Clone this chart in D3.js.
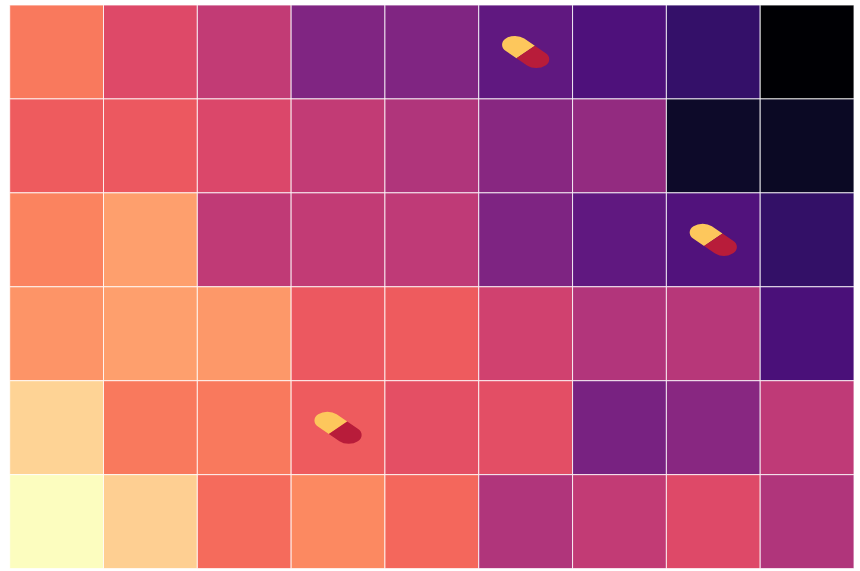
<!doctype html>
<html>
  <head>
    <meta charset="utf-8">
    <title>Heatmap with pills</title>
    <style>
      html, body { margin: 0; padding: 0; background: #fff; }
      svg { display: block; }
    </style>
    <script src="https://cdnjs.cloudflare.com/ajax/libs/d3/7.8.5/d3.min.js"></script>
  </head>
  <body>
    <div id="chart"></div>
    <script>
      const columns = [0, 1, 2, 3, 4, 5, 6, 7, 8];
      const rows = [0, 1, 2, 3, 4, 5];

      // magma scale position of each cell
      const row0 = [0.72, 0.60, 0.53, 0.37, 0.37, 0.29, 0.245, 0.185, 0.00];
      const row1 = [0.655, 0.645, 0.59, 0.53, 0.485, 0.39, 0.415, 0.075, 0.07];
      const row2 = [0.74, 0.80, 0.525, 0.53, 0.52, 0.365, 0.29, 0.25, 0.18];
      const row3 = [0.775, 0.80, 0.785, 0.645, 0.655, 0.565, 0.49, 0.50, 0.235];
      const row4 = [0.91, 0.72, 0.72, 0.655, 0.62, 0.615, 0.35, 0.39, 0.52];
      const row5 = [1.00, 0.90, 0.69, 0.75, 0.68, 0.485, 0.53, 0.60, 0.485];

      // cells that carry a pill
      const pillColumns = [5, 7, 3];
      const pillRows = [0, 2, 4];

      const values = [row0, row1, row2, row3, row4, row5];
      const cells = values.flatMap((r, i) => r.map((v, j) => ({row: i, col: j, value: v})));
      const pills = pillColumns.map((c, i) => ({col: c, row: pillRows[i]}));

      const x = d3.scaleBand().domain(columns).range([9.7, 854]);
      const y = d3.scaleBand().domain(rows).range([5, 568.6]);
      const color = d3.scaleSequential(d3.interpolateMagma).domain([0, 1]);

      const svg = d3.select('#chart')
        .append('svg')
        .attr('width', 860)
        .attr('height', 571);

      svg.selectAll('rect.cell')
        .data(cells)
        .join('rect')
        .attr('class', 'cell')
        .attr('x', d => x(d.col))
        .attr('y', d => y(d.row))
        .attr('width', x.bandwidth())
        .attr('height', y.bandwidth())
        .style('fill', d => color(d.value))
        .style('stroke', '#fff')
        .style('stroke-opacity', 0.8)
        .style('stroke-width', 1);

      // capsule at 45 degrees, flattened so it looks like it lies on the cell
      const half = 15, r = 13;
      const pill = svg.selectAll('g.pill')
        .data(pills)
        .join('g')
        .attr('class', 'pill')
        .attr('transform', d => `translate(${x(d.col) + x.bandwidth() / 2},${y(d.row) + y.bandwidth() / 2}) scale(1,0.68) rotate(45)`);

      pill.append('path')
        .attr('d', `M0,${-r} H${-half} A${r},${r} 0 0 0 ${-half},${r} H0 Z`)
        .style('fill', '#fdc75c');

      pill.append('path')
        .attr('d', `M0,${-r} H${half} A${r},${r} 0 0 1 ${half},${r} H0 Z`)
        .style('fill', '#b81c3a');
    </script>
  </body>
</html>
